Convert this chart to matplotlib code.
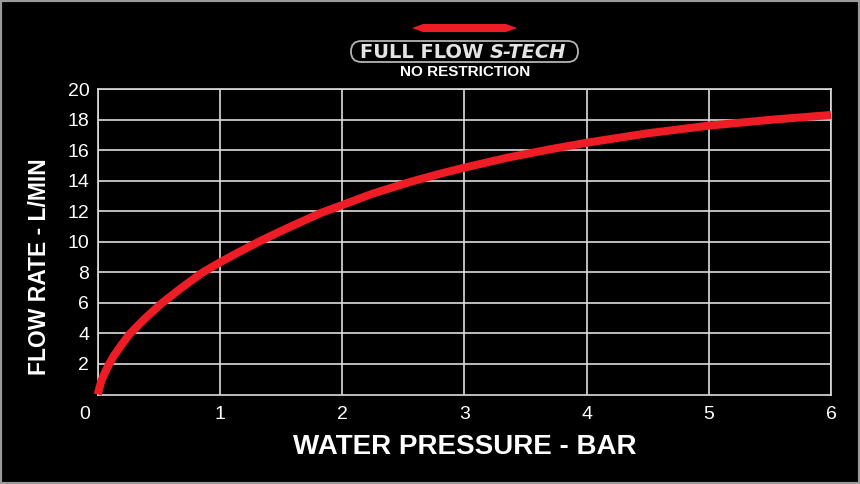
import matplotlib
matplotlib.use("Agg")
import matplotlib.pyplot as plt
from matplotlib.patches import FancyBboxPatch, Polygon, Rectangle
from matplotlib.transforms import ScaledTranslation

# flow curve (bar -> L/min)
pressure = [0, 0.03, 0.06, 0.09, 0.13, 0.19, 0.26, 0.39, 0.52, 0.68, 0.85, 1.0, 1.15, 1.33,
            1.5, 1.65, 1.83, 2.0, 2.25, 2.55, 2.8, 3.0, 3.35, 3.7, 4.0, 4.5, 5.0, 5.5, 6.0]
flow = [0, 0.9, 1.45, 1.95, 2.5, 3.2, 3.95, 5.0, 5.95, 6.95, 7.95, 8.65, 9.3, 10.05,
        10.7, 11.25, 11.9, 12.4, 13.15, 13.9, 14.45, 14.85, 15.5, 16.05, 16.48, 17.1, 17.6, 17.98, 18.3]

x_ticks = [0, 1, 2, 3, 4, 5, 6]
y_ticks = [2, 4, 6, 8, 10, 12, 14, 16, 18, 20]

plt.rcParams["font.family"] = ["Liberation Sans", "DejaVu Sans"]

fig = plt.figure(figsize=(8.6, 4.84), dpi=100, facecolor="black")
ax = fig.add_axes([0.1136, 0.1849, 0.8527, 0.6312])
ax.set_facecolor("black")

grid_col = "#dcdcdc"
ax.plot(pressure, flow, color="#ee1c25", lw=5.8, solid_capstyle="butt",
        solid_joinstyle="round", zorder=3, clip_on=False)

ax.set_xlim(0, 6)
ax.set_ylim(0, 20)
ax.set_xticks(x_ticks)
ax.set_yticks(y_ticks)
ax.grid(True, color=grid_col, lw=1.2)
ax.set_axisbelow(True)
for s in ax.spines.values():
    s.set_color(grid_col)
    s.set_linewidth(1.2)
ax.tick_params(length=0, labelcolor="white", labelsize=14)
ax.tick_params(axis="x", pad=8)
ax.tick_params(axis="y", pad=6)

# the "0" sits left of the corner
lbl0 = ax.get_xticklabels()[0]
lbl0.set_transform(lbl0.get_transform() + ScaledTranslation(-13 / 100, 0, fig.dpi_scale_trans))

ax.set_xlabel("WATER PRESSURE - BAR", color="white", fontsize=20, fontweight="bold", labelpad=8)
ax.set_ylabel("FLOW RATE - L/MIN", color="white", fontsize=16.5, fontweight="bold")
ax.yaxis.set_label_coords(-0.063, 0.42)

# header: red marker, badge and subtitle
def fx(px):
    return px / 860

def fy(px):
    return 1 - px / 484

fig.patches.append(Polygon([[fx(412), fy(28)], [fx(423), fy(24)], [fx(506), fy(24)],
                            [fx(517), fy(28)], [fx(506), fy(32)], [fx(423), fy(32)]],
                           closed=True, transform=fig.transFigure, facecolor="#ee1c25", edgecolor="none"))
fig.patches.append(FancyBboxPatch((fx(351), fy(62)), fx(227), 21 / 484,
                                  boxstyle="round,pad=0,rounding_size=0.012", transform=fig.transFigure,
                                  mutation_aspect=860 / 484,
                                  facecolor="black", edgecolor="#b4b4b4", lw=1.3))
fig.text(fx(490), fy(58), "FULL FLOW ", color="#e4e4e4", fontsize=14, fontweight="bold",
         family="DejaVu Sans", ha="right", va="baseline")
fig.text(fx(490), fy(58), "S-TECH", color="#e4e4e4", fontsize=14, fontweight="bold",
         family="DejaVu Sans", style="italic", ha="left", va="baseline")
fig.text(fx(465), fy(72), "NO RESTRICTION", color="white", fontsize=11, fontweight="bold",
         ha="center", va="center")

# thin grey frame round the whole picture
fig.patches.append(Rectangle((0, 0), 1, 1, transform=fig.transFigure, facecolor="none",
                             edgecolor="#9a9a9a", lw=3))

fig.savefig("out.png", dpi=100, facecolor="black")
